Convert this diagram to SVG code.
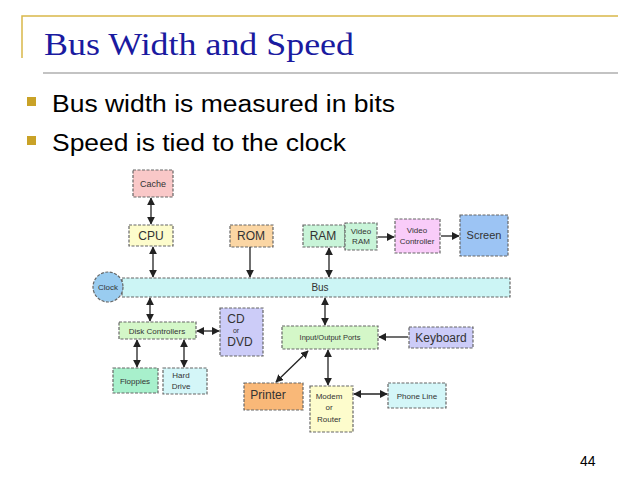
<svg xmlns="http://www.w3.org/2000/svg" width="638" height="478" viewBox="0 0 638 478">
<defs>
<marker id="a" viewBox="0 0 10 10" refX="9" refY="5" markerWidth="6" markerHeight="6" orient="auto-start-reverse"><path d="M0,0 L10,5 L0,10 z" fill="#222"/></marker>
<style>
.n{stroke:#666;stroke-width:1.2;stroke-dasharray:3 1.5}
.t{font-family:"Liberation Sans",Arial,sans-serif;fill:#333;text-anchor:middle}
.c line{stroke:#222;stroke-width:1.3}
.b{font-family:"Liberation Sans",Arial,sans-serif;font-size:23px;fill:#000}
</style>
</defs>
<rect width="638" height="478" fill="#fff"/>
<path d="M22,58 V16 H618" fill="none" stroke="#d9b84a" stroke-width="1.5"/>
<line x1="43" y1="73" x2="618" y2="73" stroke="#888" stroke-width="1.2"/>
<text x="44" y="55" font-family="Liberation Serif,serif" font-size="32" fill="#1a1aa0" textLength="310" lengthAdjust="spacingAndGlyphs">Bus Width and Speed</text>
<rect x="27" y="97" width="9" height="9" fill="#c9a227"/>
<rect x="27" y="136" width="9" height="9" fill="#c9a227"/>
<text class="b" x="52" y="112" textLength="343" lengthAdjust="spacingAndGlyphs">Bus width is measured in bits</text>
<text class="b" x="52" y="151" textLength="294" lengthAdjust="spacingAndGlyphs">Speed is tied to the clock</text>
<text x="580" y="466" font-family="Liberation Sans,sans-serif" font-size="14" fill="#000">44</text>

<g id="bus"><rect class="n" x="122" y="278" width="388" height="19" fill="#ccf5f5"/><text class="t" x="320" y="291" font-size="10">Bus</text></g>
<g id="clock"><circle class="n" cx="108" cy="287" r="15" fill="#99ccf0"/><text class="t" x="108" y="290" font-size="8">Clock</text></g>
<g id="cache"><rect class="n" x="133" y="170" width="40" height="27" fill="#f9c8c8"/><text class="t" x="153" y="187" font-size="9">Cache</text></g>
<g id="cpu"><rect class="n" x="129" y="225" width="44" height="21" fill="#fdfccc"/><text class="t" x="151" y="240" font-size="12">CPU</text></g>
<g id="rom"><rect class="n" x="230" y="225" width="43" height="22" fill="#fbd6a4"/><text class="t" x="251" y="240" font-size="12">ROM</text></g>
<g id="ram"><rect class="n" x="303" y="225" width="42" height="22" fill="#c8f4d8"/><text class="t" x="323" y="240" font-size="12">RAM</text></g>
<g id="vram"><rect class="n" x="345" y="223" width="32" height="27" fill="#c8f4d8"/><text class="t" x="361" y="234" font-size="8">Video</text><text class="t" x="361" y="244" font-size="8">RAM</text></g>
<g id="vc"><rect class="n" x="395" y="219" width="45" height="34" fill="#f9ccf9"/><text class="t" x="417" y="233" font-size="8">Video</text><text class="t" x="417" y="244" font-size="8">Controller</text></g>
<g id="screen"><rect class="n" x="460" y="215" width="48" height="41" fill="#9cc4f4"/><text class="t" x="484" y="239" font-size="11">Screen</text></g>
<g id="disk"><rect class="n" x="119" y="322" width="77" height="17" fill="#d4f7c8"/><text class="t" x="157" y="334" font-size="8">Disk Controllers</text></g>
<g id="cd"><rect class="n" x="220" y="308" width="43" height="48" fill="#ccccf8"/><text class="t" x="236" y="323" font-size="12">CD</text><text class="t" x="236" y="333" font-size="7">or</text><text class="t" x="240" y="346" font-size="12">DVD</text></g>
<g id="io"><rect class="n" x="282" y="326" width="96" height="23" fill="#d4f7c8"/><text class="t" x="330" y="340" font-size="7.5">Input/Output Ports</text></g>
<g id="kbd"><rect class="n" x="409" y="327" width="64" height="21" fill="#ccccf8"/><text class="t" x="441" y="342" font-size="12">Keyboard</text></g>
<g id="floppies"><rect class="n" x="113" y="368" width="45" height="25" fill="#a8f0cc"/><text class="t" x="135" y="384" font-size="8">Floppies</text></g>
<g id="hdd"><rect class="n" x="163" y="368" width="44" height="26" fill="#d4f6f8"/><text class="t" x="181" y="378" font-size="8">Hard</text><text class="t" x="181" y="389" font-size="8">Drive</text></g>
<g id="printer"><rect class="n" x="244" y="383" width="59" height="27" fill="#f9b878"/><text class="t" x="268" y="399" font-size="12">Printer</text></g>
<g id="modem"><rect class="n" x="310" y="386" width="43" height="46" fill="#fdfccc"/><text class="t" x="329" y="399" font-size="8">Modem</text><text class="t" x="329" y="410" font-size="8">or</text><text class="t" x="329" y="422" font-size="8">Router</text></g>
<g id="phone"><rect class="n" x="388" y="383" width="58" height="25" fill="#d4f6f8"/><text class="t" x="417" y="399" font-size="8">Phone Line</text></g>

<g class="c">
<line x1="151" y1="198" x2="151" y2="224" marker-start="url(#a)" marker-end="url(#a)"/>
<line x1="153" y1="247" x2="153" y2="277" marker-start="url(#a)" marker-end="url(#a)"/>
<line x1="250" y1="247" x2="250" y2="277" marker-end="url(#a)"/>
<line x1="329" y1="248" x2="329" y2="277" marker-start="url(#a)" marker-end="url(#a)"/>
<line x1="378" y1="237" x2="394" y2="237" marker-end="url(#a)"/>
<line x1="441" y1="236" x2="459" y2="236" marker-end="url(#a)"/>
<line x1="150" y1="298" x2="150" y2="321" marker-start="url(#a)" marker-end="url(#a)"/>
<line x1="325" y1="298" x2="325" y2="325" marker-start="url(#a)" marker-end="url(#a)"/>
<line x1="197" y1="331" x2="219" y2="331" marker-start="url(#a)" marker-end="url(#a)"/>
<line x1="137" y1="340" x2="137" y2="367" marker-start="url(#a)" marker-end="url(#a)"/>
<line x1="184" y1="340" x2="184" y2="367" marker-start="url(#a)" marker-end="url(#a)"/>
<line x1="408" y1="337" x2="379" y2="337" marker-end="url(#a)"/>
<line x1="308" y1="351" x2="276" y2="382" marker-start="url(#a)" marker-end="url(#a)"/>
<line x1="328" y1="350" x2="328" y2="385" marker-start="url(#a)" marker-end="url(#a)"/>
<line x1="354" y1="394" x2="387" y2="394" marker-start="url(#a)" marker-end="url(#a)"/>
</g>
</svg>
